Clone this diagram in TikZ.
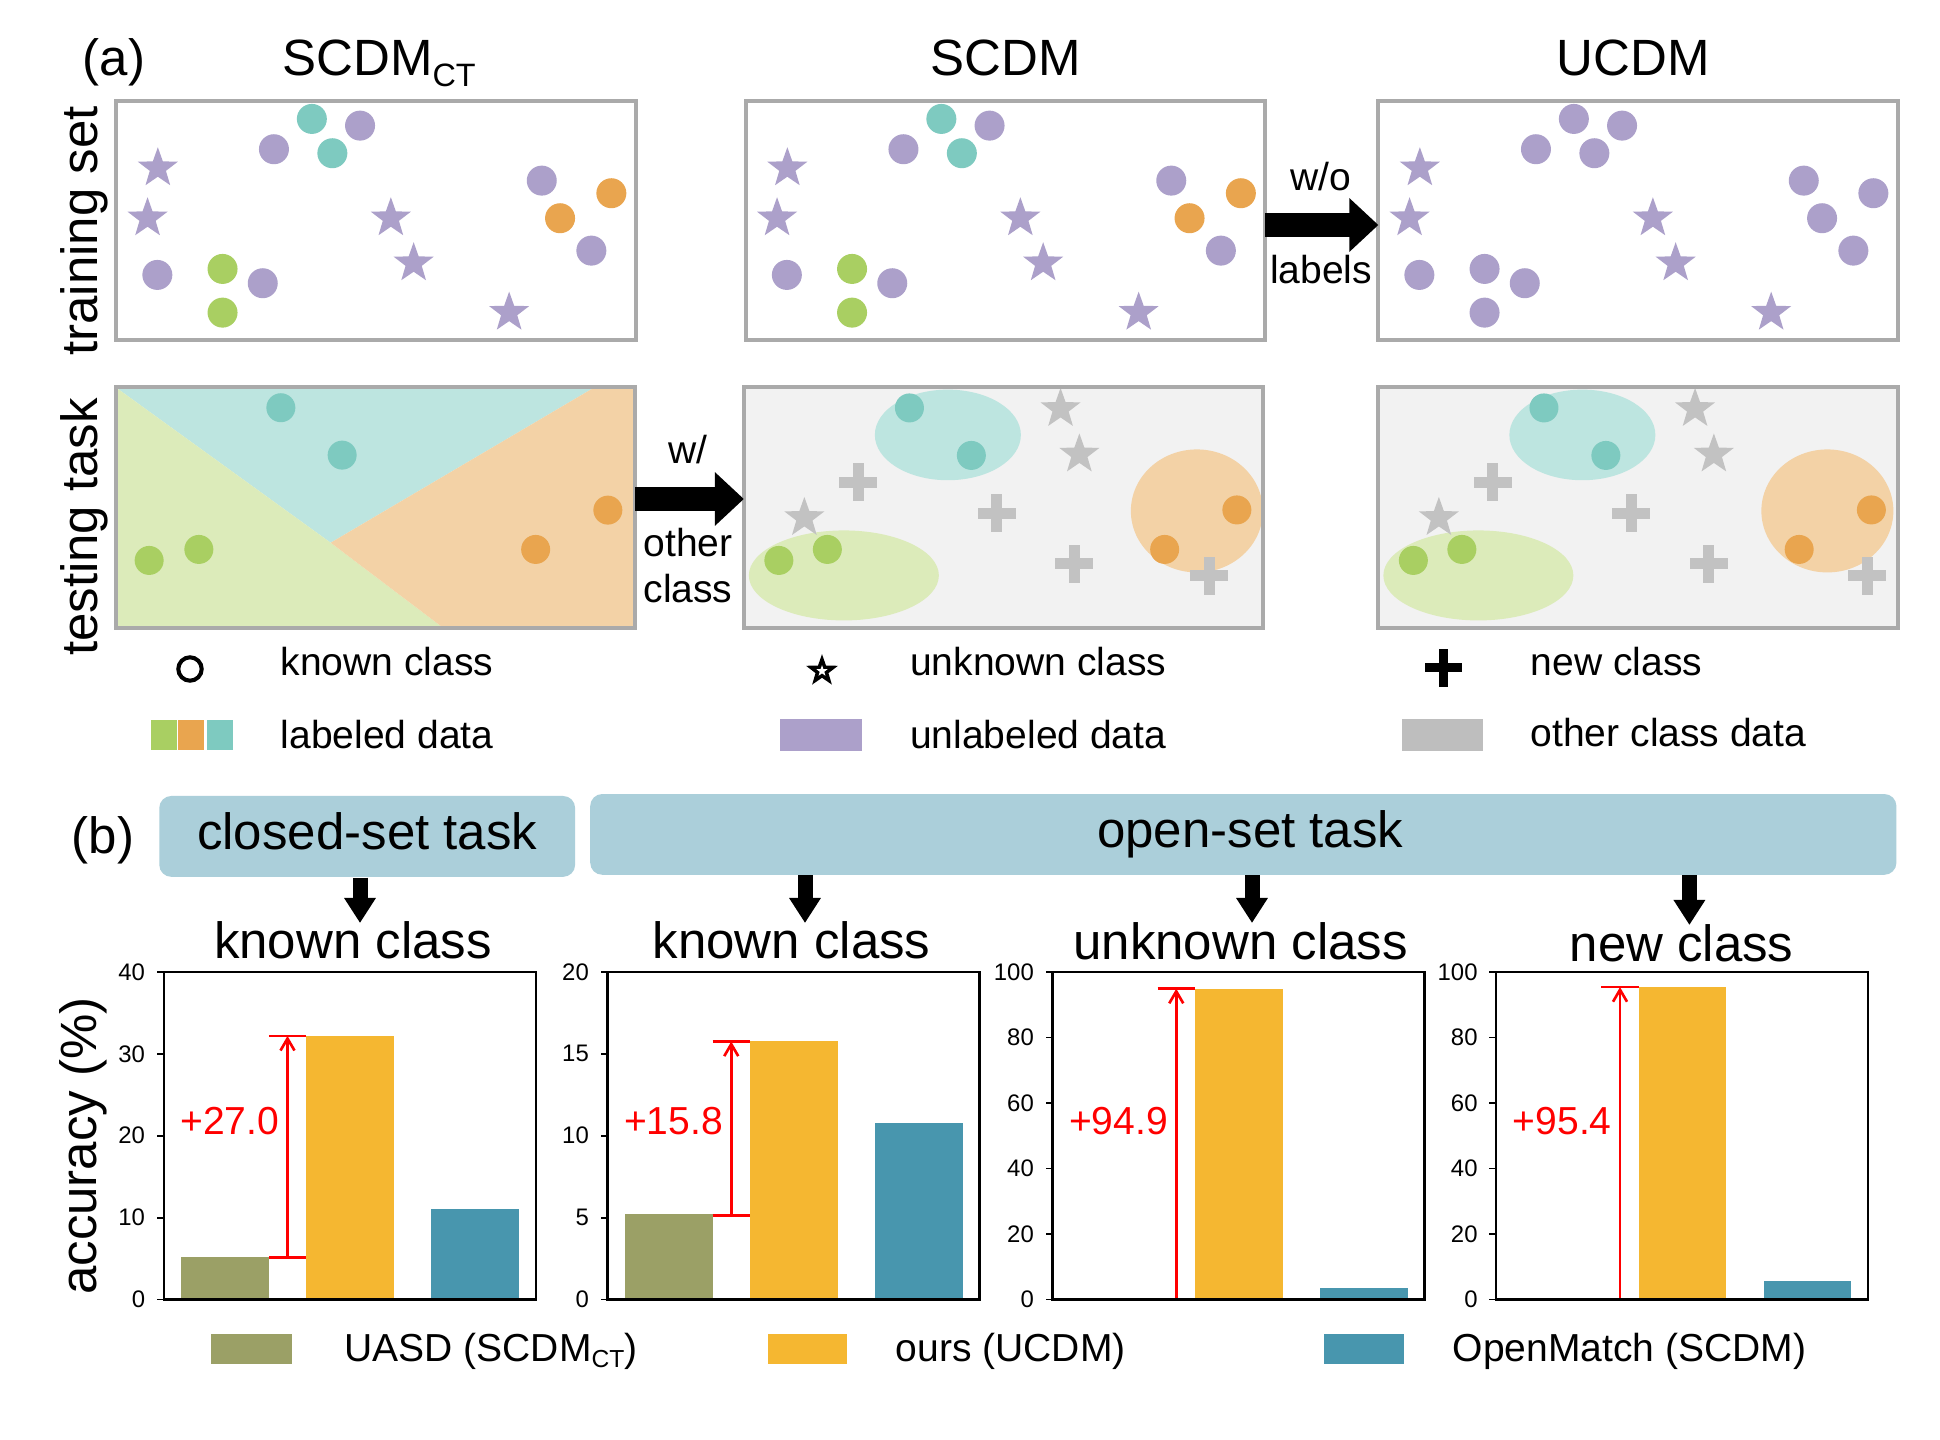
\documentclass[tikz,border=0pt]{standalone}
\usepackage{fontspec}
\setmainfont{Liberation Sans}
\usetikzlibrary{arrows.meta,calc}
\definecolor{cpur}{HTML}{ACA0CA}
\definecolor{cteal}{HTML}{7ECAC0}
\definecolor{corg}{HTML}{E9A54F}
\definecolor{cgrn}{HTML}{A9CF62}
\definecolor{lteal}{HTML}{BDE5E0}
\definecolor{lgrn}{HTML}{DCEBBA}
\definecolor{lorg}{HTML}{F3D2A6}
\definecolor{bgg}{HTML}{F2F2F2}
\definecolor{gmark}{HTML}{C2C2C2}
\definecolor{framec}{HTML}{AAAAAA}
\definecolor{taskc}{HTML}{ABCFDA}
\definecolor{colive}{HTML}{9BA066}
\definecolor{cyel}{HTML}{F5B731}
\definecolor{cblue}{HTML}{4896AE}
\definecolor{swgray}{HTML}{BEBEBE}
\newcommand\fbig{\fontsize{14.5}{17}\selectfont}
\newcommand\fmid{\fontsize{11.1}{13}\selectfont}
\newcommand\ftk{\fontsize{6.8}{8}\selectfont}
\newcommand\lowct[2]{\raisebox{-#2}{\fontsize{#1}{#1}\selectfont CT}}
\tikzset{
  pics/pstar/.style={code={\fill[#1] (270:21) -- (306:8.5) -- (342:21) -- (18:8.5) -- (54:21) -- (90:8.5) -- (126:21) -- (162:8.5) -- (198:21) -- (234:8.5) -- cycle;}},
  pics/pplus/.style={code={\fill[#1] (-19,-5.5) rectangle (19,5.5); \fill[#1] (-5.5,-19) rectangle (5.5,19);}},
  panel/.style={rectangle, inner sep=0pt, outer sep=0pt, minimum width=5.19cm, minimum height=2.39cm},
  frameline/.style={draw=framec, line width=1.1pt},
  blockarr/.style={line width=0.24cm, -{Triangle[length=0.29cm,width=0.52cm]}},
  downarr/.style={line width=0.15cm, -{Triangle[length=0.25cm,width=0.30cm]}},
  bigtxt/.style={font=\fbig, inner sep=0pt},
  midtxt/.style={font=\fmid, inner sep=0pt},
  tklbl/.style={font=\ftk, inner sep=0pt, anchor=east},
  taskbox/.style={fill=taskc, rounded corners=0.12cm, font=\fbig, text height=10.6pt, text depth=3pt, inner sep=0pt},
  axisl/.style={draw=black, line width=0.65pt},
  tickl/.style={draw=black, line width=0.5pt},
  redarr/.style={draw=red, line width=0.75pt, -{Straight Barb[length=0.12cm,width=0.14cm]}},
  redline/.style={draw=red, line width=0.75pt},
  redlbl/.style={font=\fmid, text=red, inner sep=0pt, anchor=base},
}
\newcommand\trainpts[3]{%
  \foreach \x/\y in {41.5/67.3,31.2/117.3,274.5/117.3,297.3/162.3,392.8/211.7} {\pic at (\x,\y) {pstar=cpur};}
  \foreach \x/\y/\c in {195.5/18/#1,243.7/24.7/cpur,157.6/48.3/cpur,216/52.3/#1,425.4/79.7/cpur,495/92.3/#2,443.7/117.3/#2,475/149.7/cpur,41/174/cpur,106.2/168/#3,146.4/182.3/cpur,106.2/211.7/#3} {\fill[\c] (\x,\y) circle[radius=15];}
}
\newcommand\testpts[2]{%
  \fill[lteal] (204,47.5) ellipse[x radius=73,y radius=45.3];
  \fill[lgrn] (100,188) ellipse[x radius=95,y radius=45];
  \fill[lorg] (#1,123.5) ellipse[x radius=66,y radius=61.5];
  \foreach \x/\y in {316.7/21.5,335.5/67,60.5/130.5} {\pic at (\x,\y) {pstar=gmark};}
  \foreach \x/\y in {114.6/95,253/126,330.5/176.3,#2/188.5} {\pic at (\x,\y) {pplus=gmark};}
  \foreach \x/\y/\c in {165.6/20.5/cteal,227.5/68/cteal,35/173/cgrn,83.5/162/cgrn,493/122.5/corg,420.8/162/corg} {\fill[\c] (\x,\y) circle[radius=14.5];}
}
\begin{document}
\begin{tikzpicture}[x=0.01cm,y=-0.01cm]
\fill[white] (0,0) rectangle (1940,1440);
\useasboundingbox (0,0) rectangle (1940,1440);

% ---------- (a) titles ----------
\node[bigtxt, anchor=base] (la) at (114,76) {(a)};
\node[bigtxt, anchor=base] (h1) at (379,76) {SCDM\lowct{9.2pt}{3.1pt}};
\node[bigtxt, anchor=base] (h2) at (1006,76) {SCDM};
\node[bigtxt, anchor=base] (h3) at (1633,76) {UCDM};
\node[bigtxt, rotate=90] (ltr) at (84,231) {training set};
\node[bigtxt, rotate=90] (lte) at (84,527) {testing task};

% ---------- panels ----------
\node[panel, fill=white] (t1) at (376,220.5) {};
\node[panel, fill=white] (t2) at (1005.5,220.5) {};
\node[panel, fill=white] (t3) at (1638,220.5) {};
\node[panel, fill=white, minimum height=2.40cm] (s1) at (375.5,507.5) {};
\node[panel, fill=bgg, minimum height=2.40cm] (s2) at (1003.5,507.5) {};
\node[panel, fill=bgg, minimum height=2.40cm] (s3) at (1638,507.5) {};

\begin{scope}[shift={(t1.north west)}] \trainpts{cteal}{corg}{cgrn} \end{scope}
\begin{scope}[shift={(t2.north west)}] \trainpts{cteal}{corg}{cgrn} \end{scope}
\begin{scope}[shift={(t3.north west)}] \trainpts{cpur}{cpur}{cpur} \end{scope}

\begin{scope}[shift={(s1.north west)}]
  \fill[lteal] (0,0) -- (478.5,0) -- (214.8,155.3) -- cycle;
  \fill[lgrn] (0,0) -- (214.8,155.3) -- (326.8,240) -- (0,240) -- cycle;
  \fill[lorg] (478.5,0) -- (519,0) -- (519,240) -- (326.8,240) -- (214.8,155.3) -- cycle;
  \foreach \x/\y/\c in {165/20.3/cteal,226.3/67.7/cteal,33.3/173/cgrn,83/162/cgrn,492/122.7/corg,419.8/162/corg} {\fill[\c] (\x,\y) circle[radius=14.5];}
\end{scope}
\begin{scope}[shift={(s2.north west)}] \testpts{453}{465.6} \end{scope}
\begin{scope}[shift={(s3.north west)}] \testpts{449}{489} \end{scope}

\foreach \b in {t1,t2,t3,s1,s2,s3} {\draw[frameline] (\b.south west) rectangle (\b.north east);}

% block arrows
\draw[blockarr] ([yshift=-0.045cm]t2.east) -- ([yshift=-0.045cm]t3.west);
\node[midtxt, anchor=base] (wo) at (1321,191) {w/o};
\node[midtxt, anchor=base] (lab) at (1321,284) {labels};
\draw[blockarr] ([yshift=0.085cm]s1.east) -- ([yshift=0.085cm]s2.west);
\node[midtxt, anchor=base] (w) at (688,464) {w/};
\node[midtxt, anchor=base] (oth) at (688,557) {other};
\node[midtxt, anchor=base] (cls) at (688,602) {class};

% legend (a)
\draw[line width=1.15pt] (190,669) circle[radius=11.7];
\node[midtxt, anchor=base west] (lk) at (280,675) {known class};
\fill[cgrn] (150.7,720) rectangle (176.6,750);
\fill[corg] (178,720) rectangle (204,750);
\fill[cteal] (206.5,720) rectangle (232.8,750);
\node[midtxt, anchor=base west] (lld) at (280,748) {labeled data};
\pic[scale=0.8] at (822,671) {pstar=black};
\pic[scale=0.28] at (822,671) {pstar=white};
\node[midtxt, anchor=base west] (lu) at (909.5,675) {unknown class};
\fill[cpur] (780.4,719.3) rectangle (861.6,750.7);
\node[midtxt, anchor=base west] (lud) at (909.5,748) {unlabeled data};
\fill[black] (1424.5,663) rectangle (1461.5,672);
\fill[black] (1438.5,648.5) rectangle (1447.5,686.5);
\node[midtxt, anchor=base west] (ln) at (1530,675) {new class};
\fill[swgray] (1402,719.3) rectangle (1482.7,750.7);
\node[midtxt, anchor=base west] (lod) at (1530,746) {other class data};

% ---------- (b) ----------
\node[bigtxt, anchor=base] (lb) at (103,853) {(b)};
\node[taskbox, minimum width=4.156cm, minimum height=0.808cm] (cst) at (367.2,836.4) {closed-set task};
\node[taskbox, minimum width=13.054cm, minimum height=0.807cm] (ost) at (1243.3,834.4) {\hspace*{0.14cm}open-set task};

\node[bigtxt, anchor=base] (k1) at (353,958) {known class};
\node[bigtxt, anchor=base] (k2) at (791.6,958) {known class};
\node[bigtxt, anchor=base] (u3) at (1240.6,959) {unknown class};
\node[bigtxt, anchor=base] (n4) at (1681.6,961) {new class};

\coordinate (d1) at (360,923);
\coordinate (d2) at (805,923);
\coordinate (d3) at (1252,923);
\coordinate (d4) at (1689.4,925);
\draw[downarr] (cst.south -| d1) -- (d1);
\draw[downarr] (ost.south -| d2) -- (d2);
\draw[downarr] (ost.south -| d3) -- (d3);
\draw[downarr] (ost.south -| d4) -- (d4);

\node[bigtxt, rotate=90] (acc) at (83,1146) {accuracy (\%)};

% chart 1
\begin{scope}[shift={(163.75,1299.5)}]
  \fill[colive] (17.5,0) rectangle (105,-42.6);
  \fill[cyel] (142.5,0) rectangle (230,-263.6);
  \fill[cblue] (267.5,0) rectangle (355,-90.1);
  \draw[redline] (105,-41.8) -- (142.5,-41.8);
  \draw[redline] (105,-263.6) -- (142.5,-263.6);
  \draw[redarr] (123.75,-41.8) -- (123.75,-263.6);
  \node[redlbl] (r1) at (66,-165.5) {+27.0};
  \draw[axisl] (0,0) rectangle (372,-327.5);
  \foreach \v/\l in {0/0,81.875/10,163.75/20,245.625/30,327.5/40} {\draw[tickl] (0,-\v) -- (-7,-\v); \node[tklbl] (ca\l) at (-18,-\v) {\l};}
\end{scope}
% chart 2
\begin{scope}[shift={(607.5,1299.5)}]
  \fill[colive] (17.5,0) rectangle (105,-85.2);
  \fill[cyel] (142.5,0) rectangle (230,-258.7);
  \fill[cblue] (267.5,0) rectangle (355,-176.9);
  \draw[redline] (105,-84.2) -- (142.5,-84.2);
  \draw[redline] (105,-258) -- (142.5,-258);
  \draw[redarr] (123.75,-84.2) -- (123.75,-258);
  \node[redlbl] (r2) at (66,-165.5) {+15.8};
  \draw[axisl] (0,0) rectangle (372,-327.5);
  \foreach \v/\l in {0/0,81.875/5,163.75/10,245.625/15,327.5/20} {\draw[tickl] (0,-\v) -- (-7,-\v); \node[tklbl] (cb\l) at (-18,-\v) {\l};}
\end{scope}
% chart 3
\begin{scope}[shift={(1052.5,1299.5)}]
  \fill[cyel] (142.5,0) rectangle (230,-310.8);
  \fill[cblue] (267.5,0) rectangle (355,-11.1);
  \draw[redline] (105,-310.8) -- (142.5,-310.8);
  \draw[redarr] (123.75,0) -- (123.75,-310.8);
  \node[redlbl] (r3) at (66,-165.5) {+94.9};
  \draw[axisl] (0,0) rectangle (372,-327.5);
  \foreach \v/\l in {0/0,65.5/20,131/40,196.5/60,262/80,327.5/100} {\draw[tickl] (0,-\v) -- (-7,-\v); \node[tklbl] (cc\l) at (-18,-\v) {\l};}
\end{scope}
% chart 4
\begin{scope}[shift={(1496.25,1299.5)}]
  \fill[cyel] (142.5,0) rectangle (230,-312.4);
  \fill[cblue] (267.5,0) rectangle (355,-19);
  \draw[redline] (105,-312.4) -- (142.5,-312.4);
  \draw[redarr] (123.75,0) -- (123.75,-312.4);
  \node[redlbl] (r4) at (66,-165.5) {+95.4};
  \draw[axisl] (0,0) rectangle (372,-327.5);
  \foreach \v/\l in {0/0,65.5/20,131/40,196.5/60,262/80,327.5/100} {\draw[tickl] (0,-\v) -- (-7,-\v); \node[tklbl] (cd\l) at (-18,-\v) {\l};}
\end{scope}

% legend (b)
\fill[colive] (211,1333.5) rectangle (292,1363.7);
\node[midtxt, anchor=base west] (lg1) at (343.75,1361) {UASD (SCDM\lowct{7pt}{1.8pt})};
\fill[cyel] (767.5,1333.5) rectangle (847,1363.7);
\node[midtxt, anchor=base west] (lg2) at (895,1361) {ours (UCDM)};
\fill[cblue] (1323.75,1333.5) rectangle (1403.75,1363.7);
\node[midtxt, anchor=base west] (lg3) at (1452,1361) {OpenMatch (SCDM)};
\end{tikzpicture}
\end{document}
